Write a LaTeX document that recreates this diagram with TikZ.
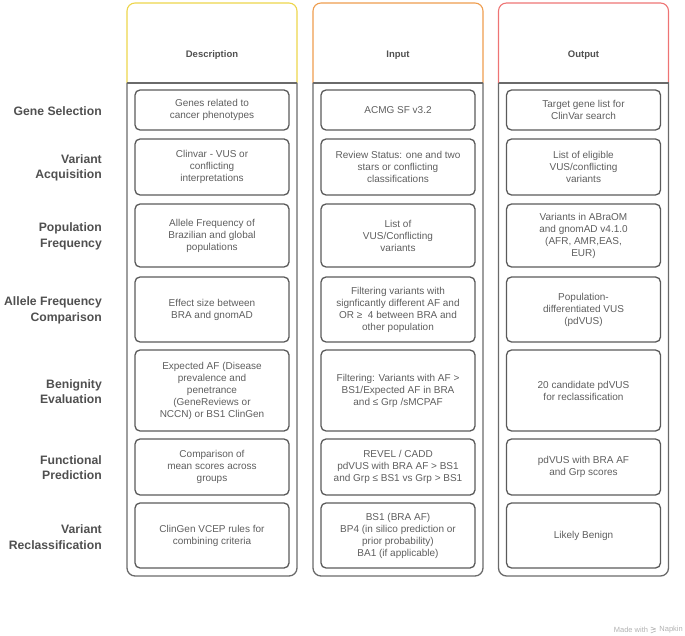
\documentclass[tikz,border=0pt]{standalone}
\usepackage{fontspec}
\setmainfont{Liberation Sans}
\usetikzlibrary{positioning}
\definecolor{descyellow}{HTML}{EDD54B}
\definecolor{inorange}{HTML}{EE9D4F}
\definecolor{outred}{HTML}{EE7474}
\definecolor{framegray}{HTML}{6A6A6A}
\definecolor{boxgray}{HTML}{5A5A5A}
\definecolor{txtgray}{HTML}{5E5E5E}
\definecolor{lblgray}{HTML}{505050}
\tikzset{
	cell/.style={draw=boxgray,line width=1.3pt,rounded corners=5pt,minimum width=154pt,inner sep=0pt,align=center,text=txtgray,font={\fontsize{10}{12}\selectfont}},
	rowlabel/.style={anchor=east,align=right,inner sep=0pt,text=lblgray,font={\fontsize{12.2}{15.5}\selectfont\bfseries}},
	colhead/.style={text=lblgray,font={\fontsize{9.5}{11}\selectfont\bfseries}},
}
\begin{document}
\begin{tikzpicture}[x=1pt,y=-1pt]
		%%Khung hình
		\useasboundingbox (0,0) rectangle (685,636);
		\def \xd{212}
		\def \xi{398}
		\def \xo{583.5}
		\def \ytop{3}
		\def \ysep{83}
		\def \ybot{576}
		%%Ba cột
		\foreach \cx/\hc in {\xd/descyellow,\xi/inorange,\xo/outred}{
			\draw[\hc,line width=1.1pt,rounded corners=8pt] (\cx-85,\ysep) |- (\cx+85,\ytop) -- (\cx+85,\ysep);
			\draw[framegray,line width=1.3pt,rounded corners=8pt] (\cx-85,\ysep) |- (\cx+85,\ybot) -- (\cx+85,\ysep);
			\draw[framegray,line width=1.3pt] (\cx-85,\ysep) -- (\cx+85,\ysep);
		}
		\node[colhead] (hd) at (\xd,55) {Description};
		\node[colhead] (hi) at (\xi,55) {Input};
		\node[colhead] (ho) at (\xo,55) {Output};
		%%Hàng 1
		\node[rowlabel] (r1) at (102,111) {Gene Selection};
		\node[cell,minimum height=40pt] (d1) at (\xd,110) {Genes related to\\cancer phenotypes};
		\node[cell,minimum height=40pt] (i1) at (\xi,110) {ACMG SF v3.2};
		\node[cell,minimum height=40pt] (o1) at (\xo,110) {Target gene list for\\ClinVar search};
		%%Hàng 2
		\node[rowlabel] (r2) at (102,168) {Variant\\Acquisition};
		\node[cell,minimum height=56pt] (d2) at (\xd,167) {Clinvar - VUS or\\conflicting\\interpretations};
		\node[cell,minimum height=56pt] (i2) at (\xi,167) {Review Status: one and two\\stars or conflicting\\classifications};
		\node[cell,minimum height=56pt] (o2) at (\xo,167) {List of eligible\\VUS/conflicting\\variants};
		%%Hàng 3
		\node[rowlabel] (r3) at (102,236.5) {Population\\Frequency};
		\node[cell,minimum height=63pt] (d3) at (\xd,235.5) {Allele Frequency of\\Brazilian and global\\populations};
		\node[cell,minimum height=63pt] (i3) at (\xi,235.5) {List of\\VUS/Conflicting\\variants};
		\node[cell,minimum height=63pt] (o3) at (\xo,235.5) {Variants in ABraOM\\and gnomAD v4.1.0\\(AFR, AMR,EAS,\\EUR)};
		%%Hàng 4
		\node[rowlabel] (r4) at (102,310.5) {Allele Frequency\\Comparison};
		\node[cell,minimum height=65pt] (d4) at (\xd,309.5) {Effect size between\\BRA and gnomAD};
		\node[cell,minimum height=65pt] (i4) at (\xi,309.5) {Filtering variants with\\signficantly different AF and\\OR ≥\ \ 4 between BRA and\\other population};
		\node[cell,minimum height=65pt] (o4) at (\xo,309.5) {Population-\\differentiated VUS\\(pdVUS)};
		%%Hàng 5
		\node[rowlabel] (r5) at (102,391.5) {Benignity\\Evaluation};
		\node[cell,minimum height=81pt] (d5) at (\xd,390.5) {Expected AF (Disease\\prevalence and\\penetrance\\(GeneReviews or\\NCCN) or BS1 ClinGen};
		\node[cell,minimum height=81pt] (i5) at (\xi,390.5) {Filtering: Variants with AF >\\BS1/Expected AF in BRA\\and ≤ Grp /sMCPAF};
		\node[cell,minimum height=81pt] (o5) at (\xo,390.5) {20 candidate pdVUS\\for reclassification};
		%%Hàng 6
		\node[rowlabel] (r6) at (102,467.5) {Functional\\Prediction};
		\node[cell,minimum height=56pt] (d6) at (\xd,467) {Comparison of\\mean scores across\\groups};
		\node[cell,minimum height=56pt] (i6) at (\xi,467) {REVEL / CADD\\pdVUS with BRA AF > BS1\\and Grp ≤ BS1 vs Grp > BS1};
		\node[cell,minimum height=56pt] (o6) at (\xo,467) {pdVUS with BRA AF\\and Grp scores};
		%%Hàng 7
		\node[rowlabel] (r7) at (102,537) {Variant\\Reclassification};
		\node[cell,minimum height=65pt] (d7) at (\xd,535.5) {ClinGen VCEP rules for\\combining criteria};
		\node[cell,minimum height=65pt] (i7) at (\xi,535.5) {BS1 (BRA AF)\\BP4 (in silico prediction or\\prior probability)\\BA1 (if applicable)};
		\node[cell,minimum height=65pt] (o7) at (\xo,535.5) {Likely Benign};
		%%Chữ ký
		\node[anchor=east,inner sep=0pt,text=gray!60,font={\fontsize{7.5}{9}\selectfont}] (napkin) at (683,630) {Napkin};
		\coordinate[left=6pt of napkin.west] (logo);
		\draw[gray!60,line width=0.6pt] ([shift={(-2.5pt,-3pt)}]logo) -- ([shift={(2.5pt,-1pt)}]logo) ([shift={(-2.5pt,0pt)}]logo) -- ([shift={(2.5pt,1pt)}]logo) ([shift={(-2.5pt,3pt)}]logo) -- ([shift={(2.5pt,1pt)}]logo);
		\node[anchor=east,inner sep=0pt,text=gray!60,font={\fontsize{7.5}{9}\selectfont}] (madewith) at ([xshift=-11pt]napkin.west) {Made with};
	\end{tikzpicture}
\end{document}
